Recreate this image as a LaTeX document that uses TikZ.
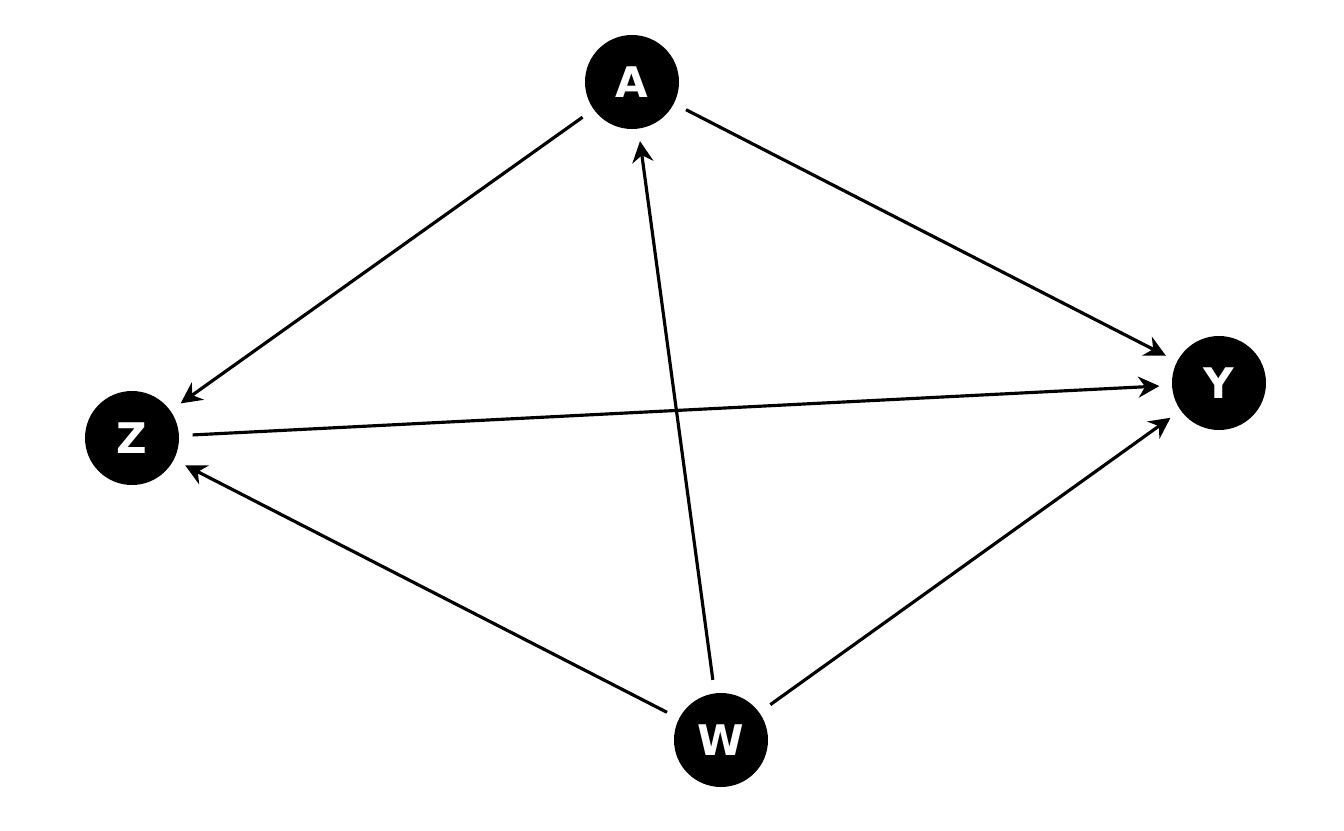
\documentclass[tikz,border=0pt]{standalone}
\usepackage{fontspec}
\setsansfont{DejaVu Sans}
\usetikzlibrary{arrows.meta}
\begin{document}
\begin{tikzpicture}[>={Stealth[length=6pt,width=6pt]},
  var/.style={circle, fill=black, minimum size=0.94cm, inner sep=0pt,
    text=white, font=\sffamily\bfseries\large},
  edge/.style={->, line width=0.9pt, shorten <=0.13cm, shorten >=0.12cm}]
\useasboundingbox (0,0) rectangle (13.44,8.30);

% variables
\node[var] (A) at (6.32,7.48) {A};
\node[var] (Z) at (1.32,3.92) {Z};
\node[var] (Y) at (12.19,4.47) {Y};
\node[var] (W) at (7.21,0.90) {W};

% edges
\draw[edge] (A) -- (Z);
\draw[edge] (A) -- (Y);
\draw[edge] (Z) -- (Y);
\draw[edge] (W) -- (Z);
\draw[edge] (W) -- (A);
\draw[edge] (W) -- (Y);

\end{tikzpicture}
\end{document}
